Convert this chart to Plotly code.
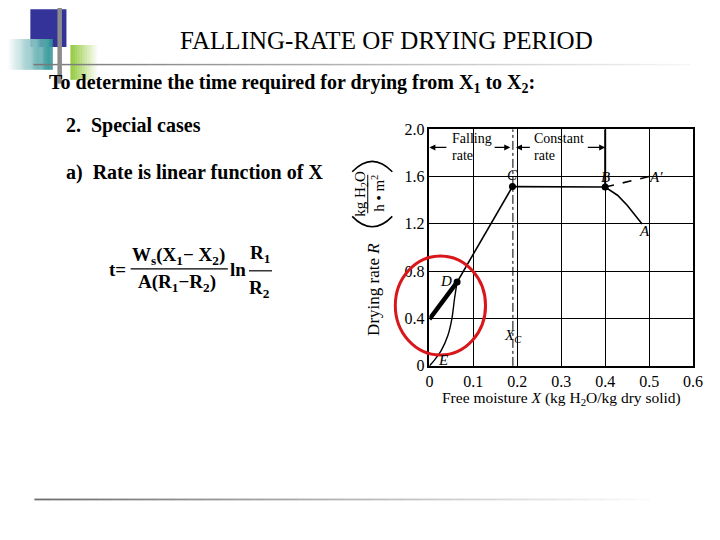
import plotly.graph_objects as go

# values: X (kg H2O/kg dry solid), R (kg H2O/h m2)
x_ab = [0.40, 0.428, 0.45, 0.469, 0.484]      # B -> A (curve)
r_ab = [1.511, 1.442, 1.358, 1.274, 1.199]
x_ab2 = [0.40, 0.50]                          # B -> A' (dashed)
r_ab2 = [1.511, 1.60]
x_cb = [0.189, 0.40]                          # constant rate C -> B
r_cb = [1.515, 1.511]
x_dc = [0.063, 0.189]                         # falling rate D -> C
r_dc = [0.708, 1.515]
x_ed = [0.0, 0.011, 0.027, 0.042, 0.051, 0.057, 0.063]   # E -> D
r_ed = [0.0, 0.047, 0.131, 0.257, 0.396, 0.563, 0.708]
x_lin = [0.0, 0.063]                          # linear rate, heavy line
r_lin = [0.395, 0.708]
pt_x = [0.189, 0.40, 0.063]                   # C, B, D
pt_r = [1.515, 1.511, 0.708]
x_crit = 0.19
x_ticks = [0, 0.1, 0.2, 0.3, 0.4, 0.5, 0.6]
x_labels = ["0", "0.1", "0.2", "0.3", "0.4", "0.5", "0.6"]
r_ticks = [0, 0.4, 0.8, 1.2, 1.6, 2.0]
r_labels = ["0", "0.4", "0.8", "1.2", "1.6", "2.0"]

W, H = 720, 540
# the page comes out a little shrunk and offset; place things so they land right
S, M = 0.978, 14
SERIF = "Liberation Serif, Times New Roman, serif"


def px(x):
    return (x / S - M) / W


def py(y):
    return 1 - (y / S - M) / H


fig = go.Figure()

line = dict(color="black", width=1.6)
fig.add_trace(go.Scatter(x=x_ab, y=r_ab, mode="lines", line=line))
fig.add_trace(go.Scatter(x=x_ab2, y=r_ab2, mode="lines", line=dict(color="black", width=1.6, dash="dash")))
fig.add_trace(go.Scatter(x=x_cb, y=r_cb, mode="lines", line=line))
fig.add_trace(go.Scatter(x=x_dc, y=r_dc, mode="lines", line=line))
fig.add_trace(go.Scatter(x=x_ed, y=r_ed, mode="lines", line=dict(color="black", width=1.4, shape="spline")))
fig.add_trace(go.Scatter(x=x_lin, y=r_lin, mode="lines", line=dict(color="black", width=4.5)))
fig.add_trace(go.Scatter(x=[x_crit, x_crit], y=[0, 2.0], mode="lines",
                         line=dict(color="black", width=1, dash="dashdot")))
fig.add_trace(go.Scatter(x=[0.4, 0.4], y=[r_cb[1], 2.0], mode="lines", line=dict(color="black", width=2)))
fig.add_trace(go.Scatter(x=pt_x, y=pt_r, mode="markers", marker=dict(color="black", size=7)))

ann = []
shapes = []


def label(t, x, y, size=15, italic=True):
    ann.append(dict(x=x, y=y, xref="x", yref="y", text="<i>%s</i>" % t if italic else t,
                    xanchor="center", yanchor="middle",
                    showarrow=False, font=dict(family=SERIF, size=size, color="black")))


def note(t, x, y, size, xa="center", angle=0):
    ann.append(dict(x=px(x), y=py(y), xref="paper", yref="paper", text=t, showarrow=False,
                    xanchor=xa, yanchor="middle", textangle=angle,
                    font=dict(family=SERIF, size=size, color="black")))


def pline(x0, y0, x1, y1, w=1.2, color="black"):
    shapes.append(dict(type="line", xref="paper", yref="paper", x0=px(x0), x1=px(x1),
                       y0=py(y0), y1=py(y1), line=dict(color=color, width=w)))


# letters on the chart
label("C", 0.189, 1.61)
label("B", 0.40, 1.595)
label("A′", 0.515, 1.595)
label("A", 0.49, 1.14)
label("D", 0.038, 0.716)
label("E", 0.03, 0.05)
label("X<sub>C</sub>", 0.19, 0.25)
label("Falling", 0.098, 1.925, 14, False)
label("rate", 0.075, 1.78, 14, False)
label("Constant", 0.296, 1.925, 14, False)
label("rate", 0.262, 1.78, 14, False)

# period arrows
for head, tail in [(0.0, 0.042), (0.184, 0.145), (0.197, 0.232), (0.4, 0.357)]:
    ann.append(dict(x=head, y=1.846, ax=tail, ay=1.846, xref="x", yref="y", axref="x", ayref="y",
                    showarrow=True, arrowhead=2, arrowsize=1, arrowwidth=1.2, arrowcolor="black", text=""))

# axis titles
note("Free moisture <i>X</i> (kg H<sub>2</sub>O/kg dry solid)", 562, 400, 15.5)
note("Drying rate <i>R</i>", 374, 290, 17, angle=-90)
note("kg H<sub>2</sub>O", 361, 193, 15, angle=-90)
note("h • m<sup>2</sup>", 378, 193, 15, angle=-90)
pline(368.5, 174, 368.5, 213, 1)
# big parentheses round the unit
shapes.append(dict(type="path", xref="paper", yref="paper", line=dict(color="black", width=1.6),
                   path="M %f,%f Q %f,%f %f,%f" % (px(353), py(171), px(373), py(150), px(393), py(171))))
shapes.append(dict(type="path", xref="paper", yref="paper", line=dict(color="black", width=1.6),
                   path="M %f,%f Q %f,%f %f,%f" % (px(353), py(216), px(373), py(237), px(393), py(216))))

# red circle
shapes.append(dict(type="circle", xref="paper", yref="paper", x0=px(396), x1=px(486),
                   y0=py(356), y1=py(256), line=dict(color="#d9161a", width=3)))


# slide decoration
def grad(x0, x1, y0, y1, c0, c1, n=40):
    for i in range(n):
        f = i / (n - 1)
        c = tuple(int(round(a + (b - a) * f)) for a, b in zip(c0, c1))
        xa = x0 + (x1 - x0) * i / n
        xb = x0 + (x1 - x0) * (i + 1) / n + 0.3
        shapes.append(dict(type="rect", xref="paper", yref="paper", x0=px(xa), x1=px(xb),
                           y0=py(y1), y1=py(y0), line=dict(width=0),
                           fillcolor="rgb(%d,%d,%d)" % c, layer="above"))


shapes.append(dict(type="rect", xref="paper", yref="paper", x0=px(32), x1=px(68), y0=py(45), y1=py(7),
                   fillcolor="#333399", line=dict(width=0), layer="above"))
grad(10, 54, 37, 68, (250, 252, 252), (50, 150, 152))
grad(72, 100, 43, 78, (140, 198, 50), (255, 255, 255))
grad(35, 690, 62, 63.5, (120, 120, 120), (245, 245, 245))
grad(36, 650, 501, 502.8, (110, 110, 110), (250, 250, 250))
shapes.append(dict(type="rect", xref="paper", yref="paper", x0=px(59), x1=px(63.5), y0=py(82), y1=py(0),
                   fillcolor="#8c8c8c", line=dict(width=0), layer="above"))

# slide text
note("FALLING-RATE OF DRYING PERIOD", 387, 38, 25)
note("<b>To determine the time required for drying from X<sub>1</sub> to X<sub>2</sub>:</b>", 49, 82, 20, "left")
note("<b>2.  Special cases</b>", 66, 124, 20, "left")
note("<b>a)  Rate is linear function of X</b>", 66, 172, 20, "left")

# formula
note("<b>t=</b>", 119, 270, 19)
note("<b>W<sub>s</sub>(X<sub>1</sub>− X<sub>2</sub>)</b>", 180, 256, 19)
note("<b>A(R<sub>1</sub>−R<sub>2</sub>)</b>", 178, 283, 19)
note("<b>ln</b>", 239, 270, 19)
note("<b>R<sub>1</sub></b>", 261, 254, 19)
note("<b>R<sub>2</sub></b>", 261, 289, 19)
pline(132, 269, 229, 269)
pline(250, 271, 273, 271)

axis_common = dict(showgrid=True, gridcolor="black", gridwidth=1, zeroline=False,
                   showline=True, linecolor="black", linewidth=1.6, mirror=True, ticks="",
                   tickfont=dict(family=SERIF, size=16, color="black"))

fig.update_layout(
    width=W, height=H, showlegend=False,
    margin=dict(l=0, r=0, t=0, b=0),
    paper_bgcolor="white", plot_bgcolor="white",
    xaxis=dict(domain=[px(430), px(693)], range=[0, 0.6], tickvals=x_ticks, ticktext=x_labels, **axis_common),
    yaxis=dict(domain=[py(367), py(128)], range=[0, 2.0], tickvals=r_ticks, ticktext=r_labels, **axis_common),
    annotations=ann, shapes=shapes,
)

fig.write_html("out.html")
